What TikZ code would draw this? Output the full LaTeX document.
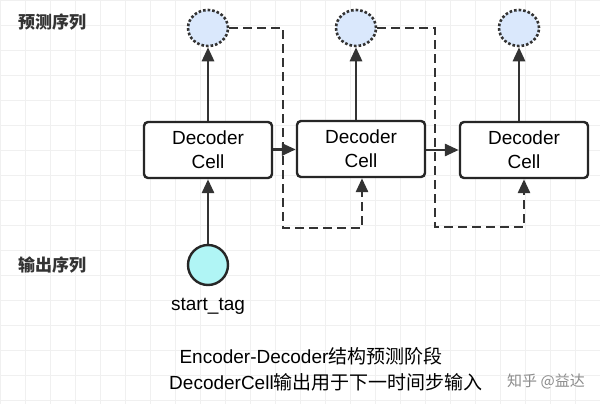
\documentclass[tikz,border=0pt]{standalone}
\usepackage{fontspec}
\setmainfont{Liberation Sans}
\newfontfamily\cjk{Noto Sans CJK SC}
\usetikzlibrary{arrows.meta,shapes.geometric}
\definecolor{predfill}{HTML}{DAE8FC}
\definecolor{startfill}{HTML}{B0F5F5}
\begin{document}
\begin{tikzpicture}[x=1pt,y=-1pt,
 cell/.style={draw=black!85,line width=2.4pt,rounded corners=4pt,minimum width=128pt,minimum height=56pt,align=center,font=\fontsize{19}{24}\selectfont,fill=white},
 pred/.style={ellipse,draw=black!80,line width=2.6pt,dotted,fill=predfill,minimum width=40pt,minimum height=36pt},
 arr/.style={line width=2.8pt,draw=black!80,-{Triangle[length=14pt,width=12pt]}},
 dsh/.style={line width=2.8pt,draw=black!80,dash pattern=on 9pt off 5pt,-{Triangle[length=14pt,width=12pt]}},
 lbl/.style={font=\cjk\bfseries\fontsize{17}{20}\selectfont,text=black!80}]
\useasboundingbox (0,0) rectangle (600,404);
\fill[white] (0,0) rectangle (600,404);
\draw[black!6,line width=0.5pt] (0,0) grid[step=25pt] (600,404);
\node[cell] (d1) at (208,150) {Decoder\\Cell};
\node[cell] (d2) at (361,149) {Decoder\\Cell};
\node[cell] (d3) at (524,150) {Decoder\\Cell};
\node[pred] (p1) at (208,28) {};
\node[pred] (p2) at (356,28) {};
\node[pred] (p3) at (519,28) {};
\node[circle,draw=black!85,line width=2.4pt,fill=startfill,minimum size=40pt] (s) at (208,265) {};
\node[font=\fontsize{19}{22}\selectfont] (st) at (208,306) {start\_tag};
\draw[arr] (d1.north -| p1) -- (p1);
\draw[arr] (d2.north -| p2) -- (p2);
\draw[arr] (d3.north -| p3) -- (p3);
\draw[arr] (s) -- (d1);
\draw[arr] (d1) -- (d2);
\draw[arr] (d2.east |- d3.west) -- (d3);
\coordinate (a1) at (283,28); \coordinate (b1) at (283,228); \coordinate (e1) at (362,228);
\coordinate (a2) at (435,28); \coordinate (b2) at (435,227); \coordinate (e2) at (524,227);
\draw[dsh] (p1.east) -- (a1) -- (b1) -- (e1) -- (d2.south -| e1);
\draw[dsh] (p2.east) -- (a2) -- (b2) -- (e2) -- (d3.south -| e2);
\node[lbl] (l1) at (52,22) {预测序列};
\node[lbl] (l2) at (52,265) {输出序列};
\node[font=\fontsize{19}{22}\selectfont] (t1) at (311,356) {Encoder-Decoder{\cjk 结构预测阶段}};
\node[font=\fontsize{19}{22}\selectfont] (t2) at (326,382) {DecoderCell{\cjk 输出用于下一时间步输入}};
\node[font=\cjk\fontsize{15}{17}\selectfont,text=black!45] (w) at (546,381) {知乎 @益达};
\end{tikzpicture}
\end{document}
